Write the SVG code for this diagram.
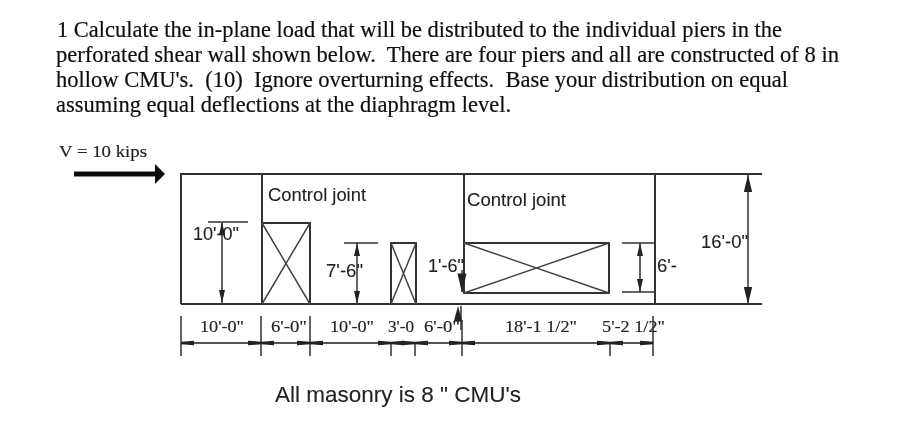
<svg xmlns="http://www.w3.org/2000/svg" width="915" height="423" viewBox="0 0 915 423">
<style>
text{white-space:pre}
.q{font-family:"Liberation Serif","Times New Roman",serif;font-size:22.5px;fill:#111;stroke:#111;stroke-width:.2}
.d{font-family:"Liberation Serif","Times New Roman",serif;font-size:17px;fill:#222;stroke:#222;stroke-width:.15}
.s{font-family:"Liberation Sans",Arial,sans-serif;font-size:18px;fill:#222;stroke:#222;stroke-width:.1}
.l{stroke:#333;stroke-width:2;fill:none}
.t{stroke:#333;stroke-width:1.5;fill:none}
.f{stroke:#444;stroke-width:1.5;fill:none}
.g{stroke:#555;stroke-width:2.2;fill:none}
.a{fill:#222;stroke:none}
.b{filter:url(#soft)}
</style>
<defs>
<filter id="soft" x="-2%" y="-2%" width="104%" height="104%"><feGaussianBlur stdDeviation="0.35"/></filter>
<path id="h" class="a" d="M0 0L-3 13L3 13Z"/>
<path id="k" class="a" d="M0 -1.2L13 -2.2L13 2.2L0 1.2Z"/>
</defs>
<rect width="915" height="423" fill="#fff"/>
<g id="question" class="b">
<text class="q" x="57" y="37" textLength="725" lengthAdjust="spacingAndGlyphs">1 Calculate the in-plane load that will be distributed to the individual piers in the</text>
<text class="q" x="56" y="62" textLength="783" lengthAdjust="spacingAndGlyphs">perforated shear wall shown below.  There are four piers and all are constructed of 8 in</text>
<text class="q" x="56" y="87" textLength="732" lengthAdjust="spacingAndGlyphs">hollow CMU's.  (10)  Ignore overturning effects.  Base your distribution on equal</text>
<text class="q" x="56" y="112" textLength="455" lengthAdjust="spacingAndGlyphs">assuming equal deflections at the diaphragm level.</text>
</g>
<g id="load" class="b">
<text class="d" x="59" y="157" textLength="88" lengthAdjust="spacingAndGlyphs">V = 10 kips</text>
<path d="M74 174H157" stroke="#111" stroke-width="5" fill="none"/>
<path d="M155 164L165 174L155 184Z" fill="#111"/>
</g>
<g id="wall" class="b">
<path class="l" d="M181 304V174H762M181 304H762"/>
<path class="l" d="M655 174V304"/>
</g>
<g id="joint-1" class="b">
<path class="l" d="M262 174V242"/>
<text class="s" x="268" y="201" textLength="98" lengthAdjust="spacingAndGlyphs">Control joint</text>
</g>
<g id="joint-2" class="b">
<path class="l" d="M464 174V243"/>
<text class="s" x="467" y="206" textLength="99" lengthAdjust="spacingAndGlyphs">Control joint</text>
</g>
<g id="opening-1" class="b">
<path class="l" d="M262 223H310V304H262Z"/>
<path class="f" d="M262 223L310 304M310 223L262 304"/>
</g>
<g id="opening-2" class="b">
<path class="l" d="M391 243H416V304H391Z"/>
<path class="f" d="M391 243L416 304M416 243L391 304"/>
</g>
<g id="opening-3" class="b">
<path class="l" d="M464 243H609V293H464Z"/>
<path class="f" d="M464 243L609 293M609 243L464 293"/>
</g>
<g id="connectors" class="b">
<path class="t" d="M208 222H248M222 222V303M344 243H378M357 243V304M622 243H655M622 292H655M640 243V292M748 175V304M456 304H464M461 306V330M462 270V292"/>
<path class="g" d="M181 343H653"/>
<path class="t" d="M181 316V356M261 316V356M310 316V356M391 343V356M415 343V356M462 320V356M610 343V356M653 316V356"/>
<use href="#h" transform="translate(222 222)"/>
<use href="#h" transform="translate(222 303) rotate(180)"/>
<use href="#h" transform="translate(357 243)"/>
<use href="#h" transform="translate(357 304) rotate(180)"/>
<use href="#h" transform="translate(640 243)"/>
<use href="#h" transform="translate(640 292) rotate(180)"/>
<use href="#h" transform="translate(748 175) scale(1.4 1.3)"/>
<use href="#h" transform="translate(748 304) rotate(180) scale(1.4 1.3)"/>
<use href="#h" transform="translate(458 306) scale(1.4 1.2)"/>
<use href="#h" transform="translate(462 293) rotate(180) scale(1.5 1.5)"/>
<use href="#k" transform="translate(181 343)"/>
<use href="#k" transform="translate(261 343) rotate(180)"/>
<use href="#k" transform="translate(261 343)"/>
<use href="#k" transform="translate(310 343) rotate(180)"/>
<use href="#k" transform="translate(310 343)"/>
<use href="#k" transform="translate(391 343) rotate(180)"/>
<use href="#k" transform="translate(391 343)"/>
<use href="#k" transform="translate(415 343) rotate(180)"/>
<use href="#k" transform="translate(415 343)"/>
<use href="#k" transform="translate(462 343) rotate(180)"/>
<use href="#k" transform="translate(462 343)"/>
<use href="#k" transform="translate(610 343) rotate(180)"/>
<use href="#k" transform="translate(610 343)"/>
<use href="#k" transform="translate(653 343) rotate(180)"/>
</g>
<g id="labels" class="b">
<text class="s" x="193" y="240" textLength="46" lengthAdjust="spacingAndGlyphs">10'-0"</text>
<text class="s" x="326" y="277" textLength="37" lengthAdjust="spacingAndGlyphs">7'-6"</text>
<text class="s" x="428" y="272" textLength="36" lengthAdjust="spacingAndGlyphs">1'-6"</text>
<text class="s" x="657" y="272" textLength="20" lengthAdjust="spacingAndGlyphs">6'-</text>
<text class="s" x="701" y="248" textLength="47" lengthAdjust="spacingAndGlyphs">16'-0"</text>
<text class="d" x="200" y="332" textLength="44" lengthAdjust="spacingAndGlyphs">10'-0"</text>
<text class="d" x="271" y="332" textLength="36" lengthAdjust="spacingAndGlyphs">6'-0"</text>
<text class="d" x="330" y="332" textLength="44" lengthAdjust="spacingAndGlyphs">10'-0"</text>
<text class="d" x="388" y="332" textLength="26" lengthAdjust="spacingAndGlyphs">3'-0</text>
<text class="d" x="424" y="332" textLength="36" lengthAdjust="spacingAndGlyphs">6'-0"</text>
<text class="d" x="505" y="332" textLength="72" lengthAdjust="spacingAndGlyphs">18'-1 1/2"</text>
<text class="d" x="602" y="332" textLength="63" lengthAdjust="spacingAndGlyphs">5'-2 1/2"</text>
<text class="s" x="275" y="402" style="font-size:22px" textLength="246" lengthAdjust="spacingAndGlyphs">All masonry is 8 " CMU's</text>
</g>
</svg>
